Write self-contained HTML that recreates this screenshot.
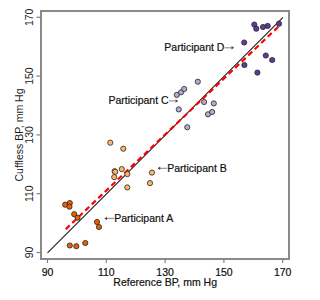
<!DOCTYPE html>
<html><head><meta charset="utf-8"><style>
html,body{margin:0;padding:0;background:#fff;width:300px;height:300px;overflow:hidden}
svg{display:block}
text{font-family:"Liberation Sans",sans-serif;font-size:10.5px;fill:#111;stroke:#111;stroke-width:0.2px}
text.r{stroke-width:0;fill:#1a1a1a}
</style></head><body>
<svg width="300" height="300" viewBox="0 0 300 300" xmlns="http://www.w3.org/2000/svg">
<rect width="300" height="300" fill="#fff"/>
<rect x="41" y="11" width="248" height="248" fill="none" stroke="#8a8a8a" stroke-width="2"/>
<line x1="47.5" y1="259" x2="47.5" y2="263" stroke="#808080" stroke-width="1.2"/><text x="47.5" y="275.8" text-anchor="middle">90</text><line x1="106.3" y1="259" x2="106.3" y2="263" stroke="#808080" stroke-width="1.2"/><text x="106.3" y="275.8" text-anchor="middle">110</text><line x1="165.1" y1="259" x2="165.1" y2="263" stroke="#808080" stroke-width="1.2"/><text x="165.1" y="275.8" text-anchor="middle">130</text><line x1="223.9" y1="259" x2="223.9" y2="263" stroke="#808080" stroke-width="1.2"/><text x="223.9" y="275.8" text-anchor="middle">150</text><line x1="282.7" y1="259" x2="282.7" y2="263" stroke="#808080" stroke-width="1.2"/><text x="282.7" y="275.8" text-anchor="middle">170</text><line x1="36.5" y1="252.5" x2="41" y2="252.5" stroke="#808080" stroke-width="1.2"/><text class="r" transform="translate(32.8 252.5) rotate(-90)" text-anchor="middle">90</text><line x1="36.5" y1="193.7" x2="41" y2="193.7" stroke="#808080" stroke-width="1.2"/><text class="r" transform="translate(32.8 193.7) rotate(-90)" text-anchor="middle">110</text><line x1="36.5" y1="134.9" x2="41" y2="134.9" stroke="#808080" stroke-width="1.2"/><text class="r" transform="translate(32.8 134.9) rotate(-90)" text-anchor="middle">130</text><line x1="36.5" y1="76.1" x2="41" y2="76.1" stroke="#808080" stroke-width="1.2"/><text class="r" transform="translate(32.8 76.1) rotate(-90)" text-anchor="middle">150</text><line x1="36.5" y1="17.3" x2="41" y2="17.3" stroke="#808080" stroke-width="1.2"/><text class="r" transform="translate(32.8 17.3) rotate(-90)" text-anchor="middle">170</text>
<text x="165.2" y="285.8" text-anchor="middle">Reference BP, mm Hg</text>
<text class="r" transform="translate(22.5 135) rotate(-90)" text-anchor="middle">Cuffless BP, mm Hg</text>
<line x1="47.5" y1="252.95" x2="283" y2="17.45" stroke="#1a1a1a" stroke-width="1.05"/>
<line x1="65.7" y1="229.2" x2="279" y2="26.1" stroke="#ff0000" stroke-width="2.2" stroke-dasharray="5.5 3.5"/>
<g stroke="#262626" stroke-width="0.8">
<circle cx="65.2" cy="204.7" r="2.6" fill="#e66101"/><circle cx="69.8" cy="203.0" r="2.6" fill="#e66101"/><circle cx="69.5" cy="206.7" r="2.6" fill="#e66101"/><circle cx="74.2" cy="214.2" r="2.6" fill="#e66101"/><circle cx="77.5" cy="217.7" r="2.6" fill="#e66101"/><circle cx="69.8" cy="245.5" r="2.6" fill="#e66101"/><circle cx="76.3" cy="246.2" r="2.6" fill="#e66101"/><circle cx="85.3" cy="243.0" r="2.6" fill="#e66101"/><circle cx="97.0" cy="222.0" r="2.6" fill="#e66101"/><circle cx="99.0" cy="227.0" r="2.6" fill="#e66101"/>
<circle cx="110.3" cy="142.7" r="2.6" fill="#fdb863"/><circle cx="123.3" cy="148.7" r="2.6" fill="#fdb863"/><circle cx="114.6" cy="171.2" r="2.6" fill="#fdb863"/><circle cx="115.2" cy="171.8" r="2.6" fill="#fdb863"/><circle cx="114.2" cy="177.1" r="2.6" fill="#fdb863"/><circle cx="121.8" cy="169.1" r="2.6" fill="#fdb863"/><circle cx="127.3" cy="174.1" r="2.6" fill="#fdb863"/><circle cx="127.3" cy="187.4" r="2.6" fill="#fdb863"/><circle cx="152" cy="172.6" r="2.6" fill="#fdb863"/><circle cx="150" cy="183.1" r="2.6" fill="#fdb863"/>
<circle cx="176.8" cy="94.9" r="2.6" fill="#b2abd2"/><circle cx="181.1" cy="92.3" r="2.6" fill="#b2abd2"/><circle cx="184.2" cy="89" r="2.6" fill="#b2abd2"/><circle cx="178.75" cy="109.4" r="2.6" fill="#b2abd2"/><circle cx="197.8" cy="81.7" r="2.6" fill="#b2abd2"/><circle cx="204.1" cy="102" r="2.6" fill="#b2abd2"/><circle cx="213.8" cy="103.4" r="2.6" fill="#b2abd2"/><circle cx="208" cy="114.3" r="2.6" fill="#b2abd2"/><circle cx="212.1" cy="112" r="2.6" fill="#b2abd2"/><circle cx="187.25" cy="127.25" r="2.6" fill="#b2abd2"/>
<circle cx="254.3" cy="24.6" r="2.6" fill="#5e3c99"/><circle cx="256.3" cy="28.7" r="2.6" fill="#5e3c99"/><circle cx="263" cy="27" r="2.6" fill="#5e3c99"/><circle cx="267.7" cy="25.9" r="2.6" fill="#5e3c99"/><circle cx="279" cy="23.7" r="2.6" fill="#5e3c99"/><circle cx="244.2" cy="42.5" r="2.6" fill="#5e3c99"/><circle cx="265.8" cy="55.5" r="2.6" fill="#5e3c99"/><circle cx="272.2" cy="60" r="2.6" fill="#5e3c99"/><circle cx="244.4" cy="65" r="2.6" fill="#5e3c99"/><circle cx="257.4" cy="72.6" r="2.6" fill="#5e3c99"/>
</g>
<text x="114.2" y="221.8">Participant A</text>
<text x="167.2" y="171.8">Participant B</text>
<text x="108.5" y="104">Participant C</text>
<text x="164.3" y="51">Participant D</text>
<line x1="106.7" y1="218.4" x2="114.2" y2="218.4" stroke="#8c8c8c" stroke-width="1.1"/><path d="M104.3 218.4 L107.0 216.65 L107.0 220.15 Z" fill="#4a4a4a"/>
<line x1="159.89999999999998" y1="168.3" x2="167.2" y2="168.3" stroke="#8c8c8c" stroke-width="1.1"/><path d="M157.5 168.3 L160.2 166.55 L160.2 170.05 Z" fill="#4a4a4a"/>
<line x1="169" y1="100.9" x2="175.90000000000003" y2="100.9" stroke="#8c8c8c" stroke-width="1.1"/><path d="M178.3 100.9 L175.60000000000002 99.15 L175.60000000000002 102.65 Z" fill="#4a4a4a"/>
<line x1="224.7" y1="47.8" x2="231.8" y2="47.8" stroke="#8c8c8c" stroke-width="1.1"/><path d="M234.2 47.8 L231.5 46.05 L231.5 49.55 Z" fill="#4a4a4a"/>
</svg>
</body></html>
